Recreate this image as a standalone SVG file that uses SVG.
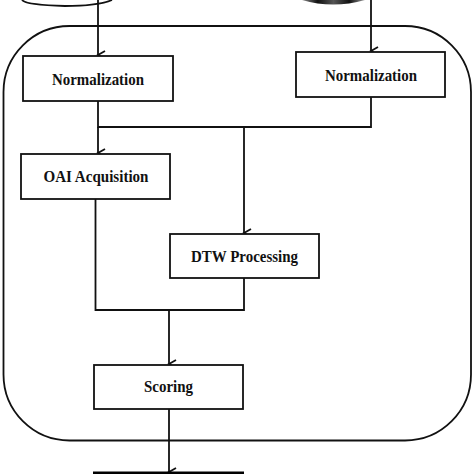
<svg xmlns="http://www.w3.org/2000/svg" width="474" height="474" viewBox="0 0 474 474">
<style>
.box{fill:#fff;stroke:#111;stroke-width:1.8}
.lbl{font-family:"Liberation Serif","Times New Roman",serif;font-weight:bold;font-size:16.5px;fill:#111;text-anchor:middle}
.ln{fill:none;stroke:#111;stroke-width:1.8}
</style>
<defs>
<marker id="ah" markerWidth="12" markerHeight="12" refX="6" refY="10" orient="auto" markerUnits="userSpaceOnUse" viewBox="0 0 12 12">
<path d="M2 3 L6 10 L10 3" fill="none" stroke="#111" stroke-width="1.8"/>
</marker>
<linearGradient id="cyl" x1="0" y1="0" x2="1" y2="0">
<stop offset="0" stop-color="#888"/>
<stop offset="0.25" stop-color="#111"/>
<stop offset="0.5" stop-color="#555"/>
<stop offset="0.75" stop-color="#111"/>
<stop offset="1" stop-color="#999"/>
</linearGradient>
</defs>
<g id="container">
<rect x="3.5" y="26" width="467.5" height="414.5" rx="66" ry="66" fill="none" stroke="#111" stroke-width="1.8"/>
</g>
<g id="source-left">
<path d="M22 0 Q26 5 65 6 Q98 6 112 0" fill="#fff" stroke="#111" stroke-width="1.8"/>
</g>
<g id="source-right">
<path d="M302 0 Q333 9 365 0 Z" fill="url(#cyl)"/>
</g>
<g id="connectors">
<line class="ln" x1="98" y1="0" x2="98" y2="55" marker-end="url(#ah)"/>
<line class="ln" x1="371" y1="0" x2="371" y2="51" marker-end="url(#ah)"/>
<polyline class="ln" points="98,101 98,127 371,127 371,97"/>
<line class="ln" x1="98" y1="127" x2="98" y2="153" marker-end="url(#ah)"/>
<line class="ln" x1="244" y1="127" x2="244" y2="233" marker-end="url(#ah)"/>
<polyline class="ln" points="95.5,199 95.5,310 244,310 244,278"/>
<line class="ln" x1="169" y1="310" x2="169" y2="364" marker-end="url(#ah)"/>
<line class="ln" x1="169" y1="409" x2="169" y2="472" marker-end="url(#ah)"/>
</g>
<g id="norm-left">
<rect class="box" x="23" y="56" width="150" height="45"/>
<text class="lbl" x="98" y="84.5" textLength="92" lengthAdjust="spacingAndGlyphs">Normalization</text>
</g>
<g id="norm-right">
<rect class="box" x="296" y="52" width="149" height="45"/>
<text class="lbl" x="371" y="81" textLength="92" lengthAdjust="spacingAndGlyphs">Normalization</text>
</g>
<g id="oai">
<rect class="box" x="21" y="154" width="149" height="45"/>
<text class="lbl" x="96" y="182" textLength="105" lengthAdjust="spacingAndGlyphs">OAI Acquisition</text>
</g>
<g id="dtw">
<rect class="box" x="170" y="234" width="149" height="44"/>
<text class="lbl" x="244.5" y="262" textLength="107" lengthAdjust="spacingAndGlyphs">DTW Processing</text>
</g>
<g id="scoring">
<rect class="box" x="94" y="365" width="149" height="44"/>
<text class="lbl" x="168.5" y="392" textLength="49" lengthAdjust="spacingAndGlyphs">Scoring</text>
</g>
<g id="output">
<rect x="94.5" y="473" width="148" height="10" fill="#fff" stroke="#000" stroke-width="3"/>
</g>
</svg>
